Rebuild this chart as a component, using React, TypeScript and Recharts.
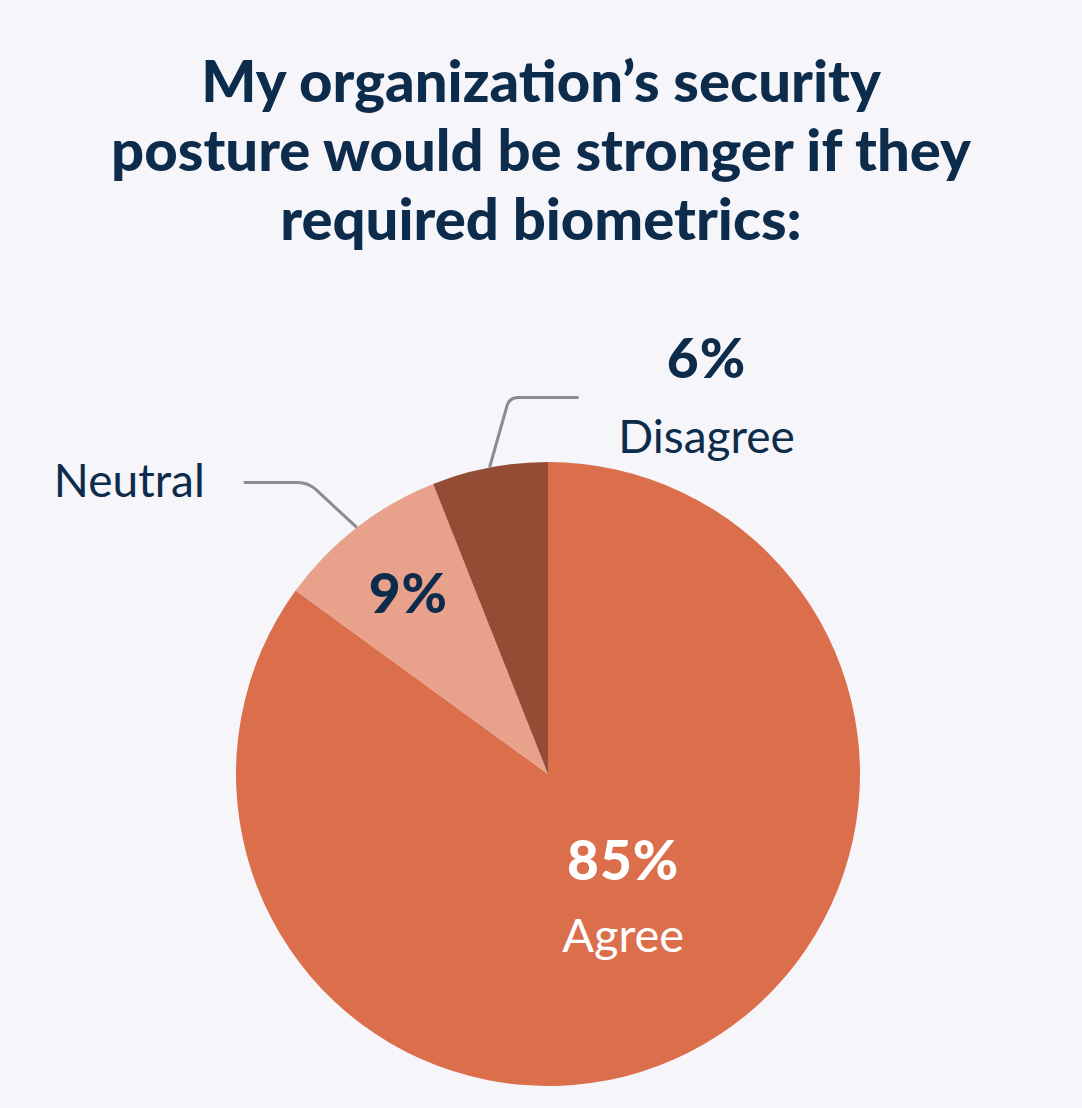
import React from 'react';
import { PieChart, Pie, Cell } from 'recharts';

const categories = ['Agree', 'Neutral', 'Disagree'];
const values = [85, 9, 6];
const colors = ['#DB6E4B', '#E8A18A', '#934D34'];

const TITLE = ['My organization\u2019s security', 'posture would be stronger if they', 'required biometrics:'];

const NAVY = '#0D2B4A';
const RAD = Math.PI / 180;

const data = categories.map((name, i) => ({ name, value: values[i] }));

// polar helper: angle in recharts convention (deg, ccw from 3 o'clock)
const polar = (cx: number, cy: number, r: number, a: number) => ({
  x: cx + r * Math.cos(-a * RAD),
  y: cy + r * Math.sin(-a * RAD),
});

const renderLabel = (props: any) => {
  const { cx, cy, midAngle, outerRadius, index, value, name } = props;
  const font = 'Lato, "Open Sans", sans-serif';

  if (index === 0) {
    // inside, lower right of centre
    const p = polar(cx, cy, outerRadius * 0.42, -55);
    return (
      <g>
        <text x={p.x} y={p.y - 1} textAnchor="middle" fill="#fff" fontFamily={font} fontWeight={900} fontSize={55} letterSpacing={1}>
          {value}%
        </text>
        <text x={p.x} y={p.y + 71} textAnchor="middle" fill="#fff" fontFamily={font} fontWeight={400} fontSize={47}>
          {name}
        </text>
      </g>
    );
  }

  const inner = polar(cx, cy, outerRadius * 0.73, midAngle);
  const edge = polar(cx, cy, outerRadius, midAngle);

  if (index === 1) {
    const elbow = { x: edge.x - 49, y: edge.y - 45 };
    const end = { x: elbow.x - 64, y: elbow.y };
    return (
      <g>
        <text x={inner.x} y={inner.y + 19} textAnchor="middle" fill={NAVY} fontFamily={font} fontWeight={900} fontSize={55} letterSpacing={1}>
          {value}%
        </text>
        <path
          d={`M${edge.x},${edge.y} L${elbow.x + 8},${elbow.y + 7} Q${elbow.x},${elbow.y} ${elbow.x - 10},${elbow.y} L${end.x},${end.y}`}
          stroke="#8C8C90"
          strokeWidth={3}
          fill="none"
        />
        <text x={end.x - 39} y={end.y + 15} textAnchor="end" fill={NAVY} fontFamily={font} fontWeight={400} fontSize={46}>
          {name}
        </text>
      </g>
    );
  }

  // Disagree: leader goes up and to the right
  const top = { x: edge.x + 19, y: edge.y - 70 };
  const end = { x: top.x + 70, y: top.y };
  return (
    <g>
      <path
        d={`M${edge.x},${edge.y} L${top.x - 2},${top.y + 10} Q${top.x},${top.y} ${top.x + 10},${top.y} L${end.x},${end.y}`}
        stroke="#8C8C90"
        strokeWidth={3}
        fill="none"
      />
      <text x={end.x + 128} y={end.y - 20} textAnchor="middle" fill={NAVY} fontFamily={font} fontWeight={900} fontSize={55} letterSpacing={1}>
        {value}%
      </text>
      <text x={end.x + 128} y={end.y + 55} textAnchor="middle" fill={NAVY} fontFamily={font} fontWeight={400} fontSize={46}>
        {name}
      </text>
    </g>
  );
};

export default function App() {
  return (
    <div style={{ position: 'absolute', left: 0, top: 0, width: 1082, height: 1108, background: '#F5F5FA', overflow: 'hidden' }}>
      <div
        style={{
          position: 'absolute',
          top: 45,
          left: 0,
          width: 1082,
          textAlign: 'center',
          fontFamily: 'Lato, "Open Sans", sans-serif',
          fontWeight: 900,
          fontSize: 58,
          lineHeight: '69px',
          color: NAVY,
        }}
      >
        {TITLE.map((t) => (
          <div key={t}>{t}</div>
        ))}
      </div>
      <PieChart
        width={1082}
        height={1108}
        margin={{ top: 0, right: 0, bottom: 0, left: 0 }}
        style={{ position: 'absolute', left: 0, top: 0 }}
      >
        <Pie
          data={data}
          dataKey="value"
          nameKey="name"
          cx={548}
          cy={774}
          outerRadius={312}
          startAngle={90}
          endAngle={-270}
          stroke="none"
          label={renderLabel}
          labelLine={false}
          isAnimationActive={false}
        >
          {data.map((d, i) => (
            <Cell key={d.name} fill={colors[i]} />
          ))}
        </Pie>
      </PieChart>
    </div>
  );
}
